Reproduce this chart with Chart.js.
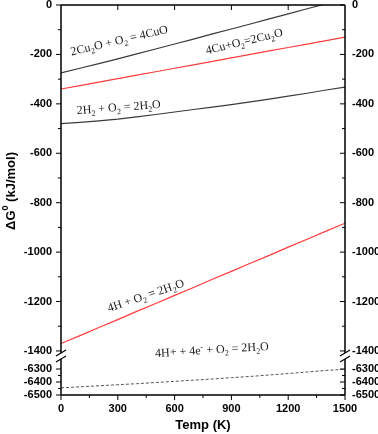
<!DOCTYPE html>
<html><head><meta charset="utf-8">
<script src="https://cdn.jsdelivr.net/npm/chart.js@4"></script>
<style>html,body{margin:0;padding:0;background:#fff;}canvas{display:block;}</style>
</head><body>
<canvas id="c" width="378" height="434" style="width:378px;height:434px"></canvas>
<script>
// ---- data ----
const temps = [0,100,200,300,400,500,600,700,800,900,1000,1100,1200,1300,1400,1500];
const cu2oToCuo = [-275,-256,-237,-218,-198,-178,-158,-138,-117,-97,-77,-56,-36,-15,5,26];
const cuToCu2o = [-340,-326,-312,-298,-284,-270,-256,-242,-228,-214,-200,-186,-172,-158,-144,-130];
const h2ToH2o = [-480,-475,-469,-462,-453,-443,-433,-423,-413,-403,-392,-381,-369,-357,-344,-332];
const hToH2o = [-1370,-1338,-1305,-1273,-1240,-1208,-1175,-1143,-1110,-1078,-1045,-1013,-980,-948,-915,-883];
const hIonToH2o = [-6445,-6437,-6429,-6421,-6413,-6404,-6395,-6386,-6377,-6367,-6357,-6346,-6335,-6323,-6311,-6302];
const xTicks = [0,300,600,900,1200,1500];
const xMinorTicks = [150,450,750,1050,1350];
const topTicks = [300,600,900,1200];
const yUpperTicks = [0,-200,-400,-600,-800,-1000,-1200,-1400];
const yUpperMinor = [-100,-300,-500,-700,-900,-1100,-1300];
const yLowerTicks = [-6300,-6400,-6500];
const yLowerMinor = [-6350,-6450];

const pts = arr => temps.map((t,i)=>({x:t,y:arr[i]}));

const lineLabels = [
  {parts:[['2Cu'],['2','sub'],['O + O'],['2','sub'],[' = 4CuO']], x:312, y:-158, angle:-13.2, axis:'yTop'},
  {parts:[['4Cu+O'],['2','sub'],['=2Cu'],['2','sub'],['O']], x:972, y:-162, angle:-13.5, axis:'yTop'},
  {parts:[['2H'],['2','sub'],[' + O'],['2','sub'],[' = 2H'],['2','sub'],['O']], x:306, y:-429, angle:-4.2, axis:'yTop'},
  {parts:[['4H + O'],['2','sub'],[' = 2H'],['2','sub'],['O']], x:454, y:-1190, angle:-18.7, axis:'yTop'},
  {parts:[['4H+ + 4e'],['-','sup'],[' + O'],['2','sub'],[' = 2H'],['2','sub'],['O']], x:798, y:-1410, angle:-3.6, axis:'yTop'}
];

function drawRich(ctx, parts, cx, cy, angle, big, small, baseline, subDy, supDy){
  let w = 0;
  for (const p of parts){ ctx.font = p[1] ? small : big; w += ctx.measureText(p[0]).width; }
  ctx.save();
  ctx.translate(cx, cy);
  ctx.rotate(angle*Math.PI/180);
  ctx.textBaseline = baseline;
  ctx.textAlign = 'left';
  let x = -w/2;
  for (const p of parts){
    ctx.font = p[1] ? small : big;
    const dy = p[1]==='sub' ? subDy : (p[1]==='sup' ? supDy : 0);
    ctx.fillText(p[0], x, dy);
    x += ctx.measureText(p[0]).width;
  }
  ctx.restore();
}

const framePlugin = {
  id:'frame',
  afterDraw(chart){
    const ctx = chart.ctx, ca = chart.chartArea, s = chart.scales;
    const L = ca.left, R = ca.right, T = ca.top, B = ca.bottom;
    const yT = s.yTop, yB = s.yBot, xs = s.x;
    ctx.save();
    ctx.strokeStyle = '#000';
    ctx.lineWidth = 1.5;
    const brkTop = yT.getPixelForValue(-1400) + 2;
    ctx.beginPath();
    ctx.moveTo(L, T); ctx.lineTo(R, T);
    ctx.moveTo(L, B); ctx.lineTo(R, B);
    for (const X of [L, R]){
      ctx.moveTo(X, T); ctx.lineTo(X, brkTop);
      ctx.moveTo(X, brkTop + 6); ctx.lineTo(X, B);
    }
    ctx.stroke();
    ctx.lineWidth = 1.3;
    ctx.beginPath();
    for (const X of [L, R]){
      ctx.moveTo(X-5, brkTop+3); ctx.lineTo(X+5, brkTop-3);
      ctx.moveTo(X-5, brkTop+9); ctx.lineTo(X+5, brkTop+3);
    }
    ctx.stroke();
    ctx.lineWidth = 1;
    ctx.beginPath();
    const yt = (scale, vals, len) => {
      for (const v of vals){
        const y = scale.getPixelForValue(v);
        ctx.moveTo(L - len, y); ctx.lineTo(L, y);
        ctx.moveTo(R - len, y); ctx.lineTo(R, y);
      }
    };
    yt(yT, yUpperTicks, 5); yt(yT, yUpperMinor, 3);
    yt(yB, yLowerTicks, 5); yt(yB, yLowerMinor, 3);
    for (const v of xTicks){ const x = xs.getPixelForValue(v); ctx.moveTo(x, B); ctx.lineTo(x, B+5); }
    for (const v of xMinorTicks){ const x = xs.getPixelForValue(v); ctx.moveTo(x, B); ctx.lineTo(x, B+3); }
    for (const v of topTicks){ const x = xs.getPixelForValue(v); ctx.moveTo(x, T); ctx.lineTo(x, T+5); }
    ctx.stroke();
    ctx.fillStyle = '#1a1a1a';
    for (const lb of lineLabels){
      const px = xs.getPixelForValue(lb.x), py = s[lb.axis].getPixelForValue(lb.y);
      drawRich(ctx, lb.parts, px, py, lb.angle, '12px "Liberation Serif"', '8px "Liberation Serif"', 'alphabetic', 3, -5);
    }
    ctx.fillStyle = '#000';
    drawRich(ctx, [['\u0394G'],['0','sup'],[' (kJ/mol)']], 11, 191, -90, 'bold 13px "Liberation Sans"', 'bold 9px "Liberation Sans"', 'middle', 0, -5);
    ctx.restore();
  }
};

const tickFont = {family:'"Liberation Sans"', size:11, weight:'bold'};
function yScale(pos, stackName, weightOrder, sw, min, max, tickVals, width, pad){
  return {
    type:'linear', position:pos, stack:stackName, stackWeight:sw, weight:weightOrder,
    min:min, max:max,
    afterBuildTicks: sc => { sc.ticks = tickVals.map(v=>({value:v})); },
    afterFit: sc => { sc.width = width; sc.paddingTop = 0; sc.paddingBottom = 0; },
    grid:{display:false, drawTicks:false}, border:{display:false},
    ticks:{font:tickFont, color:'#000', padding:pad, autoSkip:false, callback:v=>String(v)}
  };
}

new Chart(document.getElementById('c'), {
  type:'line',
  data:{ datasets:[
    {label:'2Cu2O + O2 = 4CuO', data:pts(cu2oToCuo), xAxisID:'x', yAxisID:'yTop', borderColor:'#3a3a3a', borderWidth:1.2, pointRadius:0, tension:0},
    {label:'4Cu + O2 = 2Cu2O', data:pts(cuToCu2o), xAxisID:'x', yAxisID:'yTop', borderColor:'#ff3b3b', borderWidth:1.2, pointRadius:0, tension:0},
    {label:'2H2 + O2 = 2H2O', data:pts(h2ToH2o), xAxisID:'x', yAxisID:'yTop', borderColor:'#3a3a3a', borderWidth:1.2, pointRadius:0, tension:0},
    {label:'4H + O2 = 2H2O', data:pts(hToH2o), xAxisID:'x', yAxisID:'yTop', borderColor:'#ff3b3b', borderWidth:1.2, pointRadius:0, tension:0},
    {label:'4H+ + 4e- + O2 = 2H2O', data:pts(hIonToH2o), xAxisID:'x', yAxisID:'yBot', borderColor:'#555', borderWidth:1, borderDash:[3,2], pointRadius:0, tension:0}
  ]},
  options:{
    responsive:false, animation:false, devicePixelRatio:1, events:[],
    layout:{padding:{top:5, left:0, right:0, bottom:0}},
    plugins:{legend:{display:false}, tooltip:{enabled:false}},
    scales:{
      x:{type:'linear', position:'bottom', min:0, max:1500,
        afterBuildTicks: sc => { sc.ticks = xTicks.map(v=>({value:v})); },
        afterFit: sc => { sc.height = 39; sc.paddingLeft = 0; sc.paddingRight = 0; },
        grid:{display:false, drawTicks:false}, border:{display:false},
        ticks:{font:tickFont, color:'#000', padding:7, autoSkip:false, maxRotation:0, callback:v=>String(v)},
        title:{display:true, text:'Temp (K)', color:'#000', font:{family:'"Liberation Sans"', size:13, weight:'bold'}, padding:{top:0, bottom:1}}
      },
      yTop: yScale('left','L',2,364,-1473,0,yUpperTicks,61,9),
      yBot: yScale('left','L',1,26,-6500,-6300,yLowerTicks,61,9),
      yTopR: yScale('right','R',1,364,-1473,0,yUpperTicks,33,7),
      yBotR: yScale('right','R',2,26,-6500,-6300,yLowerTicks,33,7)
    }
  },
  plugins:[framePlugin]
});
</script>
</body></html>
